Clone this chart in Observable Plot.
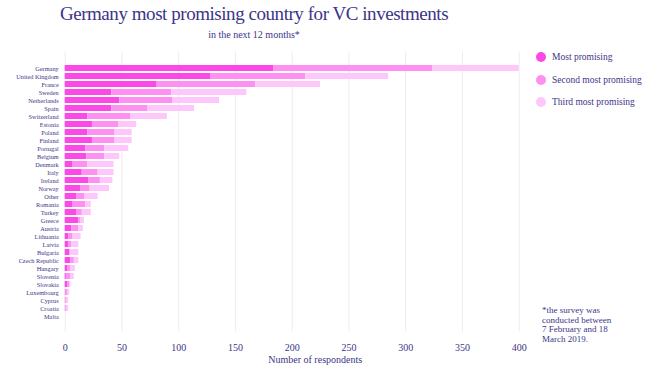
<!DOCTYPE html>
<html>
<head>
<meta charset="utf-8">
<script src="https://cdn.jsdelivr.net/npm/d3@7"></script>
<script src="https://cdn.jsdelivr.net/npm/@observablehq/plot@0.6"></script>
<style>
  html, body { margin: 0; padding: 0; background: #ffffff; }
  #wrap { position: relative; width: 650px; height: 372px; font-family: "Liberation Serif", serif; color: #3c3589; overflow: hidden; }
  .title { position: absolute; left: 0; width: 508px; top: 3px; text-align: center; font-size: 19px; letter-spacing: -0.45px; line-height: 22px; white-space: nowrap; }
  .sub { position: absolute; left: 0; width: 508px; top: 29px; text-align: center; font-size: 10px; line-height: 12px; white-space: nowrap; }
  #chart { position: absolute; left: 0; top: 48px; }
  .leg { position: absolute; left: 536px; font-size: 9.5px; line-height: 12px; white-space: nowrap; }
  .leg span.dot { position: absolute; left: 0; top: 1px; width: 10px; height: 10px; border-radius: 50%; }
  .leg span.lab { position: absolute; left: 16px; top: 0; }
  .note { position: absolute; left: 542px; top: 306px; font-size: 9px; line-height: 9.5px; }
</style>
</head>
<body>
<div id="wrap">
  <div class="title">Germany most promising country for VC investments</div>
  <div class="sub">in the next 12 months*</div>
  <div id="chart"></div>
  <div id="legend"></div>
  <div class="note">*the survey was<br>conducted between<br>7 February and 18<br>March 2019.</div>
</div>
<script>
const countries = ["Germany","United Kingdom","France","Sweden","Netherlands","Spain","Switzerland","Estonia","Poland","Finland","Portugal","Belgium","Denmark","Italy","Ireland","Norway","Other","Romania","Turkey","Greece","Austria","Lithuania","Latvia","Bulgaria","Czech Republic","Hungary","Slovenia","Slovakia","Luxembourg","Cyprus","Croatia","Malta"];
const mostPromising   = [184,128,81,41,48,41,20,24,20,24,18,19,7,15,21,14,10,7,10,12,6,3,3,4,5,2,1,2,0,0,0,0];
const secondPromising = [140,84,87,53,47,32,38,23,24,20,17,16,13,14,10,8,7,11,5,2,6,4,3,1,3,3,4,2,2,1,1,0];
const thirdPromising  = [76,73,57,66,41,41,32,16,15,15,21,13,23,14,11,17,12,5,8,3,4,7,6,7,4,4,3,1,2,2,2,0];
const seriesNames = ["Most promising","Second most promising","Third most promising"];
const seriesColors = ["#fd48e8","#fd90f1","#fec7fb"];
const xTicks = [0,50,100,150,200,250,300,350,400];

const seriesValues = [mostPromising, secondPromising, thirdPromising];
const data = [];
seriesNames.forEach((s, k) => {
  countries.forEach((c, i) => data.push({country: c, series: s, value: seriesValues[k][i]}));
});

const chart = Plot.plot({
  width: 650,
  height: 324,
  marginLeft: 64.7,
  marginRight: 131.3,
  marginTop: 3.4,
  marginBottom: 40.7,
  style: {fontFamily: "Liberation Serif, serif", color: "#3c3589", background: "transparent"},
  x: {domain: [0, 400]},
  y: {domain: countries, padding: 0.3},
  color: {domain: seriesNames, range: seriesColors},
  marks: [
    Plot.gridX({ticks: xTicks, stroke: "#ededed", strokeOpacity: 1, strokeWidth: 1}),
    Plot.barX(data, Plot.stackX({y: "country", x: "value", fill: "series", order: null})),
    Plot.axisY({tickSize: 0, tickPadding: 6.5, fontSize: 6.3, label: null}),
    Plot.axisX({ticks: xTicks, tickSize: 0, tickPadding: 12, fontSize: 10, label: null}),
    Plot.text(["Number of respondents"], {frameAnchor: "bottom", dy: 30.7, dx: 23, fontSize: 10, fill: "#3c3589"})
  ]
});
document.getElementById("chart").appendChild(chart);

const legend = document.getElementById("legend");
const legendY = [51, 74, 96];
seriesNames.forEach((s, k) => {
  const d = document.createElement("div");
  d.className = "leg";
  d.style.top = legendY[k] + "px";
  d.innerHTML = `<span class="dot" style="background:${seriesColors[k]}"></span><span class="lab">${s}</span>`;
  legend.appendChild(d);
});
</script>
</body>
</html>
